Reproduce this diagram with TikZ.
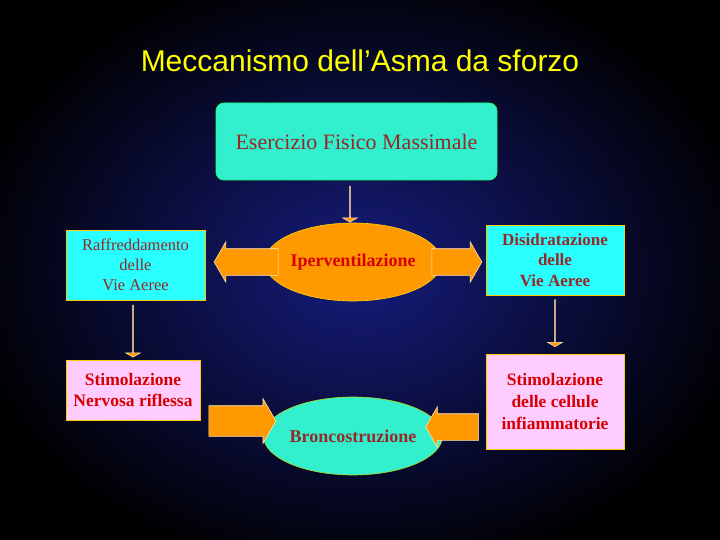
\documentclass[tikz,border=0pt]{standalone}
\usepackage{fontspec}
\setmainfont{Liberation Serif}
\newfontfamily\arial{Liberation Sans}
\usetikzlibrary{shapes.geometric,shapes.arrows}
\definecolor{bgin}{RGB}{22,28,125}
\definecolor{aq}{RGB}{40,255,255}
\definecolor{teal1}{RGB}{50,240,205}
\definecolor{pk}{RGB}{255,204,255}
\definecolor{orng}{RGB}{255,153,0}
\definecolor{dred}{RGB}{150,40,40}
\definecolor{bred}{RGB}{215,0,0}
\definecolor{ttl}{RGB}{255,255,0}
\tikzset{
 box/.style={draw=orange!40!yellow, line width=0.8pt, align=center, inner sep=0pt, font=\fontsize{17}{20}\selectfont},
 blockarrow/.style={single arrow, draw=white!75!orng, line width=0.6pt, fill=orng, single arrow head extend=7pt, single arrow tip angle=120, inner xsep=0pt, inner ysep=13pt},
}
\begin{document}
\begin{tikzpicture}[x=1pt,y=-1pt]
\useasboundingbox (0,0) rectangle (720,540);
\shade[inner color=bgin, outer color=black] (-40,-40) rectangle (760,580);
\node[font=\arial\fontsize{30}{34}\selectfont, text=ttl] (title) at (360,61) {Meccanismo dell’Asma da sforzo};
\node[box, draw=teal1!60!green, fill=teal1, rounded corners=8pt, minimum width=281pt, minimum height=77pt, text=dred, font=\fontsize{22}{26}\selectfont] (ese) at (356.5,141.5) {Esercizio Fisico Massimale};
\node[box, fill=aq, minimum width=139pt, minimum height=70pt, text=dred, font=\fontsize{16.5}{20}\selectfont] (raf) at (135.5,265) {Raffreddamento\\delle\\Vie Aeree};
\node[box, fill=aq, minimum width=138pt, minimum height=70pt, text=dred, font=\bfseries\fontsize{17}{20.5}\selectfont] (dis) at (555,260) {Disidratazione\\delle\\Vie Aeree};
\node[box, fill=pk, minimum width=134pt, minimum height=60pt, text=bred, font=\bfseries\fontsize{17.5}{21}\selectfont] (snr) at (133,390) {Stimolazione\\Nervosa riflessa};
\node[box, fill=pk, minimum width=138pt, minimum height=95pt, text=bred, font=\bfseries\fontsize{17.5}{22}\selectfont] (scl) at (555,402) {Stimolazione\\delle cellule\\infiammatorie};
\node[ellipse, draw=yellow!70!orange, line width=0.6pt, fill=orng, minimum width=144pt, minimum height=78pt, inner sep=0pt, text=bred, font=\bfseries\fontsize{18}{20}\selectfont] (ipe) at (353,262) {Iperventilazione};
\node[ellipse, draw=yellow!70!green, line width=0.6pt, fill=teal1, minimum width=144pt, minimum height=78pt, inner sep=0pt, text=dred, font=\bfseries\fontsize{18}{20}\selectfont] (bro) at (353,436) {\raisebox{-5pt}{Broncostruzione}};
\node[blockarrow, minimum height=36pt, shape border rotate=270] (a1) at (350,204) {};
\node[blockarrow, minimum height=64pt, shape border rotate=180] (a2) at (250,262) {};
\node[blockarrow, minimum height=50pt] (a3) at (453,262) {};
\node[blockarrow, minimum height=52pt, shape border rotate=270] (a4) at (133,331) {};
\node[blockarrow, minimum height=47pt, shape border rotate=270] (a5) at (555,323) {};
\node[blockarrow, minimum height=67pt, inner ysep=15pt] (a6) at (238,421) {};
\node[blockarrow, minimum height=53pt, shape border rotate=180] (a7) at (456,427) {};
\end{tikzpicture}
\end{document}
